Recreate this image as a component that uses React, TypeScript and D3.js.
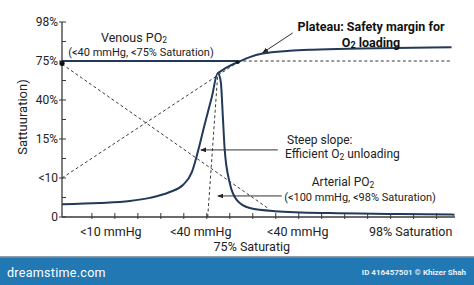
import * as d3 from "d3";

const WIDTH = 474;
const HEIGHT = 285;

// y axis is categorical, one band per label
const yTickLabels = ["0", "<10", "15%", "40%", "75%", "98%"];

// x axis: 16 small ticks, labels not centred on ticks
const xTicks = d3.range(0, 16);
const xTickLabels = ["<10 mmHg", "<40 mmHg", "<40 mmHg", "98% Saturation"];
const xTickLabelPos = [0.83, 4.74, 8.96, 13.87];
const xSubLabel = "75% Saturatig";
const xSubLabelPos = 6.96;

// main curve: flat foot, steep spike, flat tail
const curveX = [
  -1.3, 0.35, 1.65, 2.52, 3.39, 3.96, 4.35, 4.61, 4.91, 5.22, 5.48, 5.61, 5.7,
  5.78, 6.0, 6.3, 6.87, 7.96, 10.35, 13.39, 15.78,
];
const curveY = [
  0.33, 0.36, 0.41, 0.49, 0.64, 0.82, 1.15, 1.67, 2.38, 3.08, 3.69, 3.46, 2.56,
  1.72, 0.87, 0.44, 0.23, 0.15, 0.1, 0.08, 0.06,
];

// plateau branch from the spike top
const plateauX = [5.48, 5.91, 6.35, 6.87, 7.43, 8.61, 9.61, 11.65, 15.65];
const plateauY = [3.69, 3.85, 3.97, 4.1, 4.19, 4.26, 4.29, 4.32, 4.35];

// dashed guide lines [x1, y1, x2, y2]
const dashedLines = [
  [-1.3, 3.92, 7.65, 0.23],
  [-1.3, 1.0, 6.35, 3.97],
  [5.04, 0, 5.48, 3.69],
  [6.35, 4, 15.65, 4],
];
const venousLine = [-1.3, 4, 6.35, 4];

// annotation arrows [x1, y1, x2, y2] (head at x2, y2)
const arrows = [
  [8.74, 4.72, 7.43, 4.21],
  [8.09, 1.72, 4.74, 1.72],
  [8.26, 0.54, 5.48, 0.54],
];

const points = [
  [-1.3, 3.94, 2.6],
  [6.35, 3.97, 1.8],
];

const NAVY = "#22395a";
const AXIS = "#3a3a3a";
const FONT = "Roboto, 'Liberation Sans', sans-serif";

const App = () => {
  const xScale = d3.scaleLinear().domain([-1.3, 15.8]).range([62, 455]);
  const yScale = d3.scaleLinear().domain([0, 5]).range([217, 22]);

  const line = d3
    .line<[number, number]>()
    .x((d) => xScale(d[0]))
    .y((d) => yScale(d[1]))
    .curve(d3.curveMonotoneX);

  const mainPath = line(curveX.map((x, i) => [x, curveY[i]]));
  const plateauPath = line(plateauX.map((x, i) => [x, plateauY[i]]));

  const yMinor = d3.range(0.5, 5, 1);

  return (
    <svg
      width={WIDTH}
      height={HEIGHT}
      style={{ position: "absolute", left: 0, top: 0, background: "#fff" }}
      fontFamily={FONT}
    >
      <defs>
        <marker
          id="head"
          viewBox="0 0 10 10"
          refX="9"
          refY="5"
          markerWidth="6"
          markerHeight="6"
          orient="auto"
        >
          <path d="M0,1 L10,5 L0,9 Z" fill="#222" />
        </marker>
      </defs>

      {/* axes */}
      <line
        x1={xScale(-1.3)}
        x2={xScale(-1.3)}
        y1={yScale(5)}
        y2={yScale(0)}
        stroke={AXIS}
        strokeWidth={1.3}
      />
      <line
        x1={xScale(-1.3)}
        x2={xScale(15.8)}
        y1={yScale(0)}
        y2={yScale(0)}
        stroke={AXIS}
        strokeWidth={1.3}
      />
      {yTickLabels.map((label, i) => (
        <g key={label + i}>
          <line
            x1={xScale(-1.3) - 3}
            x2={xScale(-1.3) + 4}
            y1={yScale(i)}
            y2={yScale(i)}
            stroke={AXIS}
          />
          <text
            x={xScale(-1.3) - 4}
            y={yScale(i)}
            textAnchor="end"
            dominantBaseline="central"
            fontSize={12}
            fill="#222"
          >
            {label}
          </text>
        </g>
      ))}
      {yMinor.map((v) => (
        <line
          key={v}
          x1={xScale(-1.3)}
          x2={xScale(-1.3) + 4}
          y1={yScale(v)}
          y2={yScale(v)}
          stroke={AXIS}
        />
      ))}
      {xTicks.map((t) => (
        <line
          key={t}
          x1={xScale(t)}
          x2={xScale(t)}
          y1={yScale(0) - 4}
          y2={yScale(0) + 2}
          stroke={AXIS}
        />
      ))}
      {xTickLabels.map((label, i) => (
        <text
          key={i}
          x={xScale(xTickLabelPos[i])}
          y={231}
          textAnchor="middle"
          dominantBaseline="central"
          fontSize={12.5}
          fill="#222"
        >
          {label}
        </text>
      ))}
      <text
        x={xScale(xSubLabelPos)}
        y={246}
        textAnchor="middle"
        dominantBaseline="central"
        fontSize={12.5}
        fill="#222"
      >
        {xSubLabel}
      </text>
      <text
        transform={`translate(22,117) rotate(-90)`}
        textAnchor="middle"
        dominantBaseline="central"
        fontSize={13}
        fill="#222"
      >
        Sattuuration)
      </text>

      {/* guides */}
      {dashedLines.map((d, i) => (
        <line
          key={i}
          x1={xScale(d[0])}
          y1={yScale(d[1])}
          x2={xScale(d[2])}
          y2={yScale(d[3])}
          stroke="#222"
          strokeWidth={0.9}
          strokeDasharray="3,2.5"
        />
      ))}
      <line
        x1={xScale(venousLine[0])}
        y1={yScale(venousLine[1])}
        x2={xScale(venousLine[2])}
        y2={yScale(venousLine[3])}
        stroke={NAVY}
        strokeWidth={1.8}
      />

      {/* curve */}
      <path d={mainPath!} fill="none" stroke={NAVY} strokeWidth={2} />
      <path d={plateauPath!} fill="none" stroke={NAVY} strokeWidth={2} />
      {points.map((p, i) => (
        <circle key={i} cx={xScale(p[0])} cy={yScale(p[1])} r={p[2]} fill="#111" />
      ))}

      {/* arrows */}
      {arrows.map((a, i) => (
        <line
          key={i}
          x1={xScale(a[0])}
          y1={yScale(a[1])}
          x2={xScale(a[2])}
          y2={yScale(a[3])}
          stroke="#333"
          strokeWidth={1}
          markerEnd="url(#head)"
        />
      ))}

      {/* annotations */}
      <text x={134} y={37} textAnchor="middle" dominantBaseline="central" fontSize={12.5} fill="#222">
        Venous PO<tspan fontSize={8.5} dy={3}>2</tspan>
      </text>
      <text x={141} y={52} textAnchor="middle" dominantBaseline="central" fontSize={11} fill="#222">
        (&lt;40 mmHg, &lt;75% Saturation)
      </text>
      <text x={371} y={26} textAnchor="middle" dominantBaseline="central" fontSize={12.5} fontWeight="bold" fill="#111">
        Plateau: Safety margin for
      </text>
      <text x={371} y={42} textAnchor="middle" dominantBaseline="central" fontSize={12.5} fontWeight="bold" fill="#111">
        O<tspan fontSize={9} dy={3}>2</tspan>
        <tspan dy={-3}> loading</tspan>
      </text>
      <text x={287} y={140} dominantBaseline="central" fontSize={12} fill="#222">
        Steep slope:
      </text>
      <text x={285} y={154} dominantBaseline="central" fontSize={12} fill="#222">
        Efficient O<tspan fontSize={8.5} dy={3}>2</tspan>
        <tspan dy={-3}> unloading</tspan>
      </text>
      <text x={343} y={182} textAnchor="middle" dominantBaseline="central" fontSize={12} fill="#222">
        Arterial PO<tspan fontSize={8.5} dy={3}>2</tspan>
      </text>
      <text x={360} y={197} textAnchor="middle" dominantBaseline="central" fontSize={11} fill="#222">
        (&lt;100 mmHg, &lt;98% Saturation)
      </text>

      {/* footer bar */}
      <rect x={0} y={256} width={WIDTH} height={29} fill="#2178b3" />
      <rect x={0} y={256} width={WIDTH} height={1.5} fill="#8d9dab" />
      <text x={7} y={272} dominantBaseline="central" fontSize={12.5} fill="#fff" letterSpacing={0.3}>
        dreamstime.com
      </text>
      <text
        x={466}
        y={272}
        textAnchor="end"
        dominantBaseline="central"
        fontSize={8}
        fontWeight="bold"
        fill="#eaf2f8"
      >
        ID 416457501 © Khizer Shah
      </text>
    </svg>
  );
};

export default App;
